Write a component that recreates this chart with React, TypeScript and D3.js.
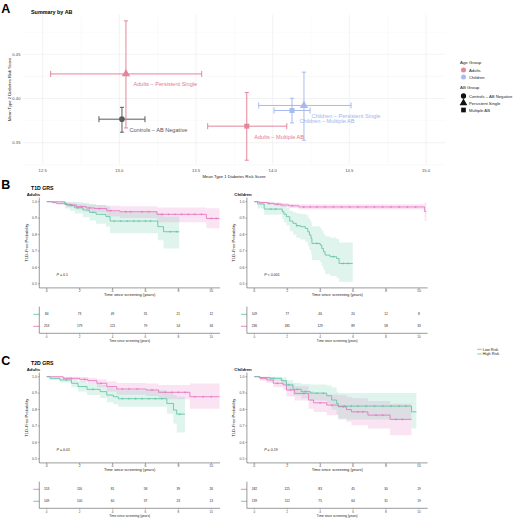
import React from 'react';
import * as d3 from 'd3';

const FONT = '"Liberation Sans", Arial, Helvetica, sans-serif';

// ---------- Panel A: summary by AB group ----------
const abLabels = ['Controls – AB Negative', 'Adults – Persistent Single', 'Adults – Multiple AB', 'Children – Persistent Single', 'Children – Multiple AB'];
const abAge = ['Controls', 'Adults', 'Adults', 'Children', 'Children'];
const abShape = ['circle', 'triangle', 'square', 'triangle', 'square'];
const t1dMean = [13.017, 13.043, 13.831, 14.204, 14.126];
const t1dLow = [12.867, 12.552, 13.576, 13.909, 14.009];
const t1dHigh = [13.167, 13.537, 14.092, 14.511, 14.244];
const t2dMean = [0.3766, 0.4278, 0.3687, 0.3921, 0.3864];
const t2dLow = [0.3619, 0.3667, 0.3302, 0.3528, 0.3724];
const t2dHigh = [0.390, 0.4878, 0.4068, 0.4298, 0.4003];

const aXTicks = [12.5, 13.0, 13.5, 14.0, 14.5, 15.0];
const aXMinor = [12.75, 13.25, 13.75, 14.25, 14.75];
const aYTicks = [0.35, 0.40, 0.45];
const aYMinor = [0.325, 0.375, 0.425, 0.475];

const ageGroups = ['Adults', 'Children'];
const abGroups = ['Controls – AB Negative', 'Persistent Single', 'Multiple AB'];
const abGroupShapes = ['circle', 'triangle', 'square'];

const ageColor: Record<string, string> = { Adults: '#E27A90', Children: '#9FB4EF', Controls: '#4A4A4A' };

// ---------- Survival curves: [time, surv, lower, upper] ----------
type KM = [number, number, number, number][];

const bAdultsLow: KM = [
  [0, 1, 1, 1], [0.35, 0.995, 0.988, 1], [0.6, 0.99, 0.98, 1], [1.2, 0.98, 0.966, 0.994],
  [1.8, 0.97, 0.952, 0.988], [2.4, 0.962, 0.94, 0.983], [2.9, 0.958, 0.934, 0.98],
  [3.65, 0.945, 0.91, 0.975], [4.45, 0.939, 0.9, 0.972], [6.7, 0.923, 0.875, 0.965],
  [9.7, 0.898, 0.838, 0.96], [10.5, 0.898, 0.838, 0.96],
];
const bAdultsHigh: KM = [
  [0, 1, 1, 1], [1.1, 0.984, 0.958, 1], [1.4, 0.976, 0.945, 1], [1.7, 0.963, 0.928, 0.998],
  [2.2, 0.949, 0.905, 0.994], [2.6, 0.935, 0.885, 0.986], [3.0, 0.923, 0.865, 0.98],
  [3.6, 0.909, 0.848, 0.972], [3.85, 0.882, 0.808, 0.94], [6.75, 0.848, 0.765, 0.93],
  [7.1, 0.817, 0.715, 0.91], [8.05, 0.817, 0.715, 0.91],
];
const bChildrenLow: KM = [
  [0, 1, 1, 1], [0.3, 0.995, 0.989, 1], [0.8, 0.99, 0.982, 0.998], [1.2, 0.985, 0.975, 0.995],
  [1.6, 0.98, 0.968, 0.992], [2.1, 0.975, 0.962, 0.988], [2.7, 0.968, 0.952, 0.984],
  [10.35, 0.94, 0.882, 0.996], [10.45, 0.94, 0.882, 0.996],
];
const bChildrenHigh: KM = [
  [0, 1, 1, 1], [0.2, 0.986, 0.96, 1], [0.6, 0.955, 0.92, 0.99], [1.7, 0.939, 0.895, 0.985],
  [1.8, 0.924, 0.875, 0.975], [1.95, 0.909, 0.855, 0.965], [2.15, 0.882, 0.82, 0.945],
  [2.35, 0.868, 0.8, 0.935], [2.55, 0.854, 0.78, 0.93], [2.8, 0.848, 0.77, 0.925],
  [3.1, 0.837, 0.755, 0.92], [3.25, 0.817, 0.73, 0.905], [3.35, 0.797, 0.705, 0.89],
  [3.45, 0.776, 0.68, 0.872], [3.5, 0.746, 0.645, 0.85], [4.0, 0.736, 0.632, 0.84],
  [4.1, 0.715, 0.607, 0.823], [4.2, 0.695, 0.585, 0.805], [4.3, 0.675, 0.56, 0.79],
  [4.6, 0.665, 0.548, 0.782], [5.0, 0.654, 0.535, 0.773], [5.15, 0.624, 0.512, 0.752],
  [5.98, 0.624, 0.512, 0.752],
];
const cAdultsLow: KM = [
  [0, 1, 1, 1], [1.0, 0.99, 0.98, 1], [2.0, 0.984, 0.97, 0.998], [2.5, 0.976, 0.958, 0.994],
  [3.05, 0.96, 0.935, 0.985], [3.65, 0.94, 0.91, 0.972], [4.25, 0.925, 0.89, 0.962],
  [6.05, 0.919, 0.882, 0.958], [6.8, 0.905, 0.862, 0.95], [8.7, 0.878, 0.805, 0.958],
  [10.5, 0.878, 0.805, 0.958],
];
const cAdultsHigh: KM = [
  [0, 1, 1, 1], [0.2, 0.99, 0.98, 1], [0.8, 0.98, 0.964, 0.996], [1.5, 0.96, 0.935, 0.985],
  [1.9, 0.94, 0.91, 0.972], [2.45, 0.923, 0.888, 0.96], [3.25, 0.909, 0.87, 0.95],
  [3.65, 0.888, 0.845, 0.935], [4.05, 0.878, 0.832, 0.927], [4.35, 0.866, 0.817, 0.918],
  [7.3, 0.837, 0.775, 0.905], [7.7, 0.797, 0.715, 0.888], [7.9, 0.772, 0.66, 0.878],
  [8.4, 0.772, 0.66, 0.878],
];
const cChildrenLow: KM = [
  [0, 1, 1, 1], [0.35, 0.99, 0.975, 1], [0.75, 0.98, 0.962, 0.998], [1.15, 0.96, 0.935, 0.985],
  [1.75, 0.95, 0.92, 0.978], [1.95, 0.919, 0.88, 0.958], [2.45, 0.898, 0.855, 0.942],
  [3.3, 0.858, 0.805, 0.912], [3.6, 0.841, 0.785, 0.9], [4.4, 0.827, 0.765, 0.892],
  [5.1, 0.817, 0.745, 0.888], [5.6, 0.8, 0.725, 0.878], [5.9, 0.786, 0.705, 0.868],
  [6.9, 0.766, 0.685, 0.852], [8.25, 0.74, 0.644, 0.835], [9.55, 0.74, 0.644, 0.835],
];
const cChildrenHigh: KM = [
  [0, 1, 1, 1], [0.3, 0.995, 0.985, 1], [0.95, 0.99, 0.975, 1], [1.65, 0.976, 0.955, 0.997],
  [1.95, 0.95, 0.92, 0.98], [2.35, 0.923, 0.885, 0.962], [2.85, 0.909, 0.868, 0.955],
  [3.4, 0.9, 0.855, 0.952], [4.4, 0.884, 0.835, 0.948], [4.7, 0.858, 0.8, 0.935],
  [5.0, 0.837, 0.77, 0.91], [5.1, 0.821, 0.74, 0.9], [9.55, 0.786, 0.685, 0.9],
  [9.85, 0.786, 0.685, 0.9],
];

// censoring times
const bAdultsLowCens = [1.5, 2.1, 2.6, 3.2, 3.9, 4.8, 5.1, 5.8, 6.2, 7.0, 7.4, 7.8, 8.2, 8.6, 9.0, 9.4, 10.0, 10.3];
const bAdultsHighCens = [1.9, 2.8, 4.1, 4.5, 4.9, 5.3, 5.6, 6.0, 6.3, 7.5, 7.9];
const bChildrenLowCens = [0.9, 1.4, 2.3, 3.0, 3.4, 3.8, 4.3, 4.8, 5.3, 5.8, 6.3, 6.8, 7.3, 7.8, 8.3, 8.8, 9.3, 9.8];
const bChildrenHighCens = [1.0, 1.3, 2.6, 3.8, 4.8, 5.4, 5.7];
const cAdultsLowCens = [1.5, 2.3, 3.3, 4.6, 5.0, 5.5, 6.4, 7.2, 7.6, 8.0, 8.4, 9.0, 9.5, 10.0];
const cAdultsHighCens = [1.2, 2.8, 4.6, 5.0, 5.4, 5.8, 6.2, 6.6, 7.0, 8.1];
const cChildrenLowCens = [1.4, 2.2, 3.0, 4.0, 4.7, 5.4, 6.3, 6.6, 7.4, 7.8, 8.6, 9.0];
const cChildrenHighCens = [1.2, 2.1, 2.6, 3.1, 3.8, 4.2, 5.5, 5.9, 6.3, 6.8, 7.3, 7.8, 8.3, 8.8, 9.2];

// number at risk
const riskTimes = [0, 2, 4, 6, 8, 10];
const bAdultsHighRisk = [84, 73, 49, 31, 21, 12];
const bAdultsLowRisk = [253, 179, 121, 79, 54, 34];
const bChildrenHighRisk = [109, 77, 46, 20, 12, 8];
const bChildrenLowRisk = [236, 185, 129, 89, 58, 33];
const cAdultsLowRisk = [153, 116, 81, 58, 39, 26];
const cAdultsHighRisk = [149, 100, 60, 37, 23, 13];
const cChildrenLowRisk = [182, 125, 83, 45, 30, 19];
const cChildrenHighRisk = [139, 112, 75, 64, 31, 19];

const survXTicks = [0, 2, 4, 6, 8, 10];
const survYTicks = [0.5, 0.6, 0.7, 0.8, 0.9, 1.0];

const LOW = '#E46CBC';
const HIGH = '#55C29E';
const AXIS = '#555';

function symbolPath(shape: string, size: number) {
  const t = shape === 'circle' ? d3.symbolCircle : shape === 'triangle' ? d3.symbolTriangle : d3.symbolSquare;
  return d3.symbol().type(t).size(size)() as string;
}

function SummaryPanel() {
  const x = d3.scaleLinear().domain([12.5, 15]).range([42.7, 426]);
  const y = d3.scaleLinear().domain([0.35, 0.45]).range([142.7, 54.3]);
  const left = 23, right = 445, top = 14.5, bottom = 164.3;
  return (
    <g fontFamily={FONT}>
      {aXMinor.map(v => <line key={'xm' + v} x1={x(v)} x2={x(v)} y1={top} y2={bottom} stroke="#F2F2F2" strokeWidth={0.4} />)}
      {aYMinor.map(v => <line key={'ym' + v} x1={left} x2={right} y1={y(v)} y2={y(v)} stroke="#F2F2F2" strokeWidth={0.4} />)}
      {aXTicks.map(v => <line key={'xg' + v} x1={x(v)} x2={x(v)} y1={top} y2={bottom} stroke="#EBEBEB" strokeWidth={0.6} />)}
      {aYTicks.map(v => <line key={'yg' + v} x1={left} x2={right} y1={y(v)} y2={y(v)} stroke="#EBEBEB" strokeWidth={0.6} />)}
      {aXTicks.map(v => (
        <text key={'xt' + v} x={x(v)} y={171.5} fontSize={4.2} fill="#4D4D4D" textAnchor="middle">{d3.format('.1f')(v)}</text>
      ))}
      {aYTicks.map(v => (
        <text key={'yt' + v} x={20.5} y={y(v) + 1.4} fontSize={4.2} fill="#4D4D4D" textAnchor="end">{d3.format('.2f')(v)}</text>
      ))}
      <text x={(left + right) / 2} y={178.3} fontSize={4.2} textAnchor="middle" fill="#222">Mean Type 1 Diabetes Risk Score</text>
      <text transform={`translate(11,${(top + bottom) / 2}) rotate(-90)`} fontSize={4.2} textAnchor="middle" fill="#222">Mean Type 2 Diabetes Risk Score</text>

      {abLabels.map((lab, i) => {
        const c = ageColor[abAge[i]];
        const cx = x(t1dMean[i]), cy = y(t2dMean[i]);
        return (
          <g key={lab} opacity={0.9}>
            <line x1={x(t1dLow[i])} x2={x(t1dHigh[i])} y1={cy} y2={cy} stroke={c} strokeWidth={1} />
            <line x1={x(t1dLow[i])} x2={x(t1dLow[i])} y1={cy - 3} y2={cy + 3} stroke={c} strokeWidth={1} />
            <line x1={x(t1dHigh[i])} x2={x(t1dHigh[i])} y1={cy - 3} y2={cy + 3} stroke={c} strokeWidth={1} />
            <line x1={cx} x2={cx} y1={y(t2dLow[i])} y2={y(t2dHigh[i])} stroke={c} strokeWidth={1} />
            <line x1={cx - 2} x2={cx + 2} y1={y(t2dLow[i])} y2={y(t2dLow[i])} stroke={c} strokeWidth={1} />
            <line x1={cx - 2} x2={cx + 2} y1={y(t2dHigh[i])} y2={y(t2dHigh[i])} stroke={c} strokeWidth={1} />
            <path d={symbolPath(abShape[i], abShape[i] === 'triangle' ? 30 : 25)} transform={`translate(${cx},${cy})`} fill={c} />
          </g>
        );
      })}
      {abLabels.map((lab, i) => (
        <text key={'l' + lab} x={x(t1dMean[i]) + 7.5} y={y(t2dMean[i]) + 12.4} fontSize={5.6}
          fill={abAge[i] === 'Controls' ? '#555' : ageColor[abAge[i]]}>{lab}</text>
      ))}

      {/* legend */}
      <text x={460} y={63.5} fontSize={4.4} fill="#222">Age Group</text>
      {ageGroups.map((g, i) => (
        <g key={g}>
          <circle cx={463.5} cy={70 + i * 7} r={2.5} fill={ageColor[g]} opacity={0.9} />
          <text x={469} y={71.5 + i * 7} fontSize={4.2} fill="#222">{g}</text>
        </g>
      ))}
      <text x={460} y={89.3} fontSize={4.4} fill="#222">AB Group</text>
      {abGroups.map((g, i) => (
        <g key={g}>
          <path d={symbolPath(abGroupShapes[i], abGroupShapes[i] === 'triangle' ? 26 : 22)} transform={`translate(463.5,${96 + i * 7})`} fill="#111" />
          <text x={469} y={97.5 + i * 7} fontSize={4.2} fill="#222">{g}</text>
        </g>
      ))}
    </g>
  );
}

function survAt(km: KM, t: number) {
  let s = km[0][1];
  for (const p of km) if (p[0] <= t) s = p[1];
  return s;
}

type SurvProps = {
  dx: number; dy: number; title: string; pText: string;
  low: KM; high: KM; lowCens: number[]; highCens: number[];
};

function SurvPanel({ dx, dy, title, pText, low, high, lowCens, highCens }: SurvProps) {
  const x = d3.scaleLinear().domain([0, 10]).range([46.7 + dx, 211.3 + dx]);
  const y = d3.scaleLinear().domain([0.5, 1]).range([283.8 + dy, 201.7 + dy]);
  const line = d3.line<[number, number, number, number]>().x(d => x(d[0])).y(d => y(d[1])).curve(d3.curveStepAfter);
  const area = d3.area<[number, number, number, number]>().x(d => x(d[0])).y0(d => y(d[2])).y1(d => y(d[3])).curve(d3.curveStepAfter);
  const x0 = x(-0.45), x1 = x(10.53), yTop = y(1.025), yBot = y(0.475);
  const curves = [
    { km: low, cens: lowCens, color: LOW },
    { km: high, cens: highCens, color: HIGH },
  ];
  return (
    <g fontFamily={FONT}>
      <text x={x0 - 12.6} y={195.8 + dy} fontSize={4.3} fontWeight="bold" fill="#111">{title}</text>
      {curves.map((c, i) => <path key={'a' + i} d={area(c.km) as string} fill={c.color} opacity={0.18} />)}
      {curves.map((c, i) => <path key={'l' + i} d={line(c.km) as string} fill="none" stroke={c.color} strokeWidth={0.8} />)}
      {curves.map((c, i) => c.cens.map(t => {
        const cx = x(t), cy = y(survAt(c.km, t));
        return (
          <path key={'c' + i + t} d={`M${cx - 1.1},${cy}H${cx + 1.1}M${cx},${cy - 1.1}V${cy + 1.1}`} stroke={c.color} strokeWidth={0.45} />
        );
      }))}
      <line x1={x0} x2={x0} y1={yTop} y2={yBot} stroke={AXIS} strokeWidth={0.6} />
      <line x1={x0} x2={x1} y1={yBot} y2={yBot} stroke={AXIS} strokeWidth={0.6} />
      {survYTicks.map(v => (
        <g key={'y' + v}>
          <line x1={x0 - 1.5} x2={x0} y1={y(v)} y2={y(v)} stroke={AXIS} strokeWidth={0.5} />
          <text x={x0 - 2.4} y={y(v) + 1.2} fontSize={3.5} fill="#4D4D4D" textAnchor="end">{d3.format('.1f')(v)}</text>
        </g>
      ))}
      {survXTicks.map(v => (
        <g key={'x' + v}>
          <line x1={x(v)} x2={x(v)} y1={yBot} y2={yBot + 1.5} stroke={AXIS} strokeWidth={0.5} />
          <text x={x(v)} y={yBot + 3.9} fontSize={3.5} fill="#4D4D4D" textAnchor="middle">{v}</text>
        </g>
      ))}
      <text x={(x0 + x1) / 2} y={296.4 + dy} fontSize={4} textAnchor="middle" fill="#222">Time since screening (years)</text>
      <text transform={`translate(${x0 - 11.4},${(yTop + yBot) / 2}) rotate(-90)`} fontSize={4} textAnchor="middle" fill="#222">T1D–Free Probability</text>
      <text x={x(0.6)} y={276.3 + dy} fontSize={3.6} fill="#222">
        <tspan fontStyle="italic">P</tspan>{pText}
      </text>
    </g>
  );
}

type RiskRow = { color: string; values: number[] };

function RiskTable({ dx, dy, rows }: { dx: number; dy: number; rows: RiskRow[] }) {
  const x = d3.scaleLinear().domain([0, 10]).range([46.7 + dx, 211.3 + dx]);
  const rowY = d3.scalePoint<number>().domain(rows.map((_, i) => i)).range([314.3 + dy, 326.3 + dy]);
  const x0 = x(-0.45), x1 = x(10.53), yTop = 306.7 + dy, yBot = 333.3 + dy;
  return (
    <g fontFamily={FONT}>
      {rows.map((r, i) => (
        <g key={i}>
          <line x1={x0 - 6} x2={x0} y1={rowY(i)} y2={rowY(i)} stroke={r.color} strokeWidth={0.8} />
          {r.values.map((v, j) => (
            <text key={j} x={x(riskTimes[j])} y={(rowY(i) as number) + 1.1} fontSize={3.2} textAnchor="middle" fill="#222">{v}</text>
          ))}
        </g>
      ))}
      <line x1={x0} x2={x0} y1={yTop} y2={yBot} stroke={AXIS} strokeWidth={0.6} />
      <line x1={x0} x2={x1} y1={yBot} y2={yBot} stroke={AXIS} strokeWidth={0.6} />
      {survXTicks.map(v => (
        <g key={v}>
          <line x1={x(v)} x2={x(v)} y1={yBot} y2={yBot + 1.2} stroke={AXIS} strokeWidth={0.4} />
          <text x={x(v)} y={yBot + 4.4} fontSize={3.1} textAnchor="middle" fill="#4D4D4D">{v}</text>
        </g>
      ))}
      <text x={(x0 + x1) / 2} y={yBot + 8.8} fontSize={3.2} textAnchor="middle" fill="#222">Time since screening (years)</text>
    </g>
  );
}

export default function App() {
  const CH = 207.6; // children column offset
  const CD = 175; // panel C offset
  return (
    <svg width={520} height={520} style={{ position: 'absolute', left: 0, top: 0, background: '#fff' }}>
      <rect width={520} height={520} fill="#fff" />
      <g fontFamily={FONT} fontWeight="bold" fill="#000">
        <text x={1.2} y={12.8} fontSize={12.5}>A</text>
        <text x={31} y={13.6} fontSize={5.4}>Summary by AB</text>
        <text x={1.2} y={189} fontSize={12.5}>B</text>
        <text x={31} y={189.5} fontSize={5.2}>T1D GRS</text>
        <text x={1.2} y={364.5} fontSize={12.5}>C</text>
        <text x={31} y={364.8} fontSize={5.2}>T2D GRS</text>
      </g>
      <SummaryPanel />

      <SurvPanel dx={0} dy={0} title="Adults" pText=" = 0.1" low={bAdultsLow} high={bAdultsHigh} lowCens={bAdultsLowCens} highCens={bAdultsHighCens} />
      <SurvPanel dx={CH} dy={0} title="Children" pText=" < 0.001" low={bChildrenLow} high={bChildrenHigh} lowCens={bChildrenLowCens} highCens={bChildrenHighCens} />
      <RiskTable dx={0} dy={0} rows={[{ color: HIGH, values: bAdultsHighRisk }, { color: LOW, values: bAdultsLowRisk }]} />
      <RiskTable dx={CH} dy={0} rows={[{ color: HIGH, values: bChildrenHighRisk }, { color: LOW, values: bChildrenLowRisk }]} />

      <SurvPanel dx={0} dy={CD} title="Adults" pText=" = 0.01" low={cAdultsLow} high={cAdultsHigh} lowCens={cAdultsLowCens} highCens={cAdultsHighCens} />
      <SurvPanel dx={CH} dy={CD} title="Children" pText=" = 0.19" low={cChildrenLow} high={cChildrenHigh} lowCens={cChildrenLowCens} highCens={cChildrenHighCens} />
      <RiskTable dx={0} dy={CD} rows={[{ color: LOW, values: cAdultsLowRisk }, { color: HIGH, values: cAdultsHighRisk }]} />
      <RiskTable dx={CH} dy={CD} rows={[{ color: LOW, values: cChildrenLowRisk }, { color: HIGH, values: cChildrenHighRisk }]} />

      <g fontFamily={FONT}>
        <line x1={477.3} x2={481.7} y1={349.3} y2={349.3} stroke={LOW} strokeWidth={0.8} />
        <text x={482.8} y={350.6} fontSize={3.8} fill="#222">Low Risk</text>
        <line x1={477.3} x2={481.7} y1={354} y2={354} stroke={HIGH} strokeWidth={0.8} />
        <text x={482.8} y={355.3} fontSize={3.8} fill="#222">High Risk</text>
      </g>
    </svg>
  );
}
